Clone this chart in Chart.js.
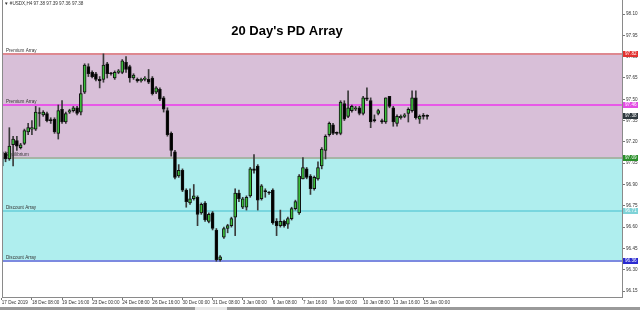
<!DOCTYPE html>
<html><head><meta charset="utf-8">
<script src="https://cdn.jsdelivr.net/npm/chart.js@4.4.1/dist/chart.umd.min.js"></script>
<style>
html,body{margin:0;padding:0;background:#fff;}
#wrap{position:relative;width:640px;height:310px;overflow:hidden;}
#strip{position:absolute;left:0;top:307px;width:640px;height:3px;background:#9a9a9a;}
#tab{position:absolute;left:195px;top:307px;width:32px;height:3px;background:#e6e6e6;}
</style></head><body>
<div id="wrap"><canvas id="c" width="640" height="310"></canvas><div id="strip"></div><div id="tab"></div></div>
<script>
// ---- data (USDX H4) ----
const opens  = [97.03,97.12,97.08,97.18,97.21,97.16,97.19,97.27,97.29,97.29,97.40,97.39,97.40,97.35,97.36,97.26,97.43,97.34,97.41,97.42,97.44,97.41,97.55,97.73,97.69,97.68,97.64,97.64,97.75,97.68,97.65,97.69,97.69,97.76,97.73,97.65,97.64,97.63,97.64,97.64,97.65,97.55,97.57,97.51,97.42,97.26,97.13,96.96,97.00,96.86,96.77,96.80,96.81,96.70,96.77,96.64,96.70,96.58,96.37,96.53,96.59,96.61,96.67,96.84,96.74,96.74,96.82,97.01,97.03,96.80,96.85,96.84,96.86,96.64,96.61,96.64,96.62,96.66,96.73,96.70,96.94,97.01,96.96,96.87,96.94,97.03,97.14,97.25,97.32,97.26,97.26,97.47,97.38,97.42,97.43,97.44,97.40,97.51,97.49,97.35,97.40,97.35,97.34,97.52,97.44,97.33,97.37,97.38,97.40,97.42,97.51,97.36,97.38,97.38];
const highs  = [97.14,97.13,97.30,97.24,97.24,97.19,97.29,97.33,97.35,97.45,97.44,97.42,97.41,97.37,97.37,97.46,97.49,97.41,97.43,97.45,97.45,97.60,97.75,97.75,97.70,97.69,97.66,97.82,97.76,97.69,97.70,97.71,97.78,97.80,97.74,97.68,97.65,97.65,97.66,97.71,97.66,97.59,97.58,97.52,97.44,97.27,97.14,97.04,97.01,96.87,96.87,96.90,96.82,96.77,96.78,96.70,96.71,96.59,96.40,96.60,96.62,96.67,96.87,96.86,96.81,96.82,97.02,97.11,97.04,96.90,96.87,96.85,96.87,96.66,96.72,96.65,96.67,96.74,96.79,96.97,97.09,97.02,96.97,96.96,97.06,97.16,97.25,97.34,97.33,97.27,97.49,97.49,97.56,97.46,97.45,97.45,97.52,97.58,97.51,97.39,97.43,97.36,97.51,97.52,97.45,97.39,97.39,97.40,97.44,97.56,97.56,97.39,97.40,97.39];
const lows   = [97.01,97.06,97.07,97.03,97.14,97.15,97.18,97.25,97.25,97.28,97.31,97.38,97.34,97.33,97.26,97.22,97.33,97.33,97.40,97.41,97.39,97.39,97.54,97.66,97.65,97.63,97.58,97.62,97.65,97.67,97.64,97.68,97.68,97.69,97.62,97.64,97.62,97.62,97.63,97.61,97.53,97.54,97.49,97.41,97.24,97.10,96.94,96.95,96.85,96.74,96.76,96.79,96.61,96.69,96.64,96.63,96.58,96.36,96.36,96.52,96.56,96.60,96.54,96.78,96.73,96.72,96.81,96.98,96.72,96.79,96.81,96.83,96.62,96.54,96.60,96.60,96.59,96.65,96.72,96.69,96.94,96.94,96.83,96.86,96.93,97.01,97.08,97.24,97.25,97.25,97.25,97.35,97.37,97.41,97.42,97.39,97.39,97.49,97.30,97.34,97.39,97.33,97.33,97.44,97.31,97.31,97.36,97.37,97.34,97.41,97.36,97.33,97.36,97.36];
const closes = [97.13,97.08,97.17,97.22,97.17,97.18,97.28,97.30,97.30,97.41,97.40,97.41,97.35,97.35,97.27,97.42,97.34,97.40,97.42,97.44,97.40,97.54,97.74,97.68,97.66,97.64,97.63,97.74,97.68,97.68,97.69,97.70,97.77,97.71,97.65,97.67,97.63,97.64,97.65,97.62,97.54,97.58,97.50,97.43,97.25,97.14,96.95,97.00,96.86,96.78,96.80,96.82,96.69,96.76,96.65,96.69,96.59,96.37,96.39,96.59,96.61,96.66,96.84,96.80,96.80,96.81,97.01,97.00,96.79,96.89,96.85,96.84,96.63,96.61,96.64,96.61,96.66,96.73,96.78,96.96,97.02,96.95,96.87,96.95,97.02,97.15,97.24,97.33,97.26,97.26,97.48,97.36,97.44,97.45,97.44,97.40,97.51,97.50,97.34,97.35,97.42,97.34,97.51,97.45,97.34,97.38,97.38,97.39,97.43,97.51,97.37,97.38,97.38,97.38];
const xTickBars   = [0,8,16,24,32,40,48,56,64,72,80,88,96,104,112];
const xTickLabels = ["17 Dec 2019","18 Dec 08:00","19 Dec 16:00","23 Dec 00:00","24 Dec 08:00","26 Dec 16:00","30 Dec 00:00","31 Dec 08:00","3 Jan 00:00","6 Jan 08:00","7 Jan 16:00","9 Jan 00:00","10 Jan 08:00","13 Jan 16:00","15 Jan 00:00"];
const yTickValues = [98.10,97.95,97.80,97.65,97.50,97.35,97.20,97.05,96.90,96.75,96.60,96.45,96.30,96.15];
const levelNames  = ["Premium Array","Premium Array","Equilibrium","Discount Array","Discount Array"];
const levelValues = [97.82,97.46,97.09,96.71,96.36];
const lastPrice   = 97.38;
const headerText  = "\u25BC #USDX,H4 97.38 97.39 97.36 97.38";
const titleText   = "20 Day's PD Array";

// ---- styling ----
const lineColors = ['#de8890','#e858e8','#a6b4a6','#78d6de','#7c8ae0'];
const tagColors  = ['#e2312f','#e34de3','#2a8f2a','#7fd3d8','#2a2ad0'];
const lastTagColor = '#2e383e';
const smallFont = '"Liberation Sans", Arial, sans-serif';

const bodyData = opens.map((o,i)=>({x:i, y:[o, closes[i]]}));
const wickData = lows.map((l,i)=>({x:i, y:[l, highs[i]]}));

const pdPlugin = {
  id:'pd',
  beforeDatasetsDraw(chart){
    const {ctx, chartArea:a, scales:{y}} = chart;
    const w = a.right - a.left;
    ctx.save();
    ctx.beginPath(); ctx.rect(a.left,a.top,w,a.bottom-a.top); ctx.clip();
    const p = levelValues.map(v=>Math.round(y.getPixelForValue(v)));
    ctx.fillStyle = '#d8bfd8'; ctx.fillRect(a.left, p[0], w, p[2]-p[0]);
    ctx.fillStyle = '#afeeee'; ctx.fillRect(a.left, p[2], w, p[4]-p[2]);
    p.forEach((py,i)=>{
      ctx.fillStyle = lineColors[i];
      ctx.fillRect(a.left, py-1, w, 2);
    });
    ctx.font = '4.6px ' + smallFont;
    ctx.fillStyle = '#333';
    ctx.textBaseline = 'bottom';
    ctx.textAlign = 'left';
    p.forEach((py,i)=>{ ctx.fillText(levelNames[i], a.left+4, py-1); });
    ctx.restore();
  },
  afterDraw(chart){
    const {ctx, chartArea:a, scales:{y}} = chart;
    ctx.save();
    // frame
    ctx.strokeStyle = '#8a8a8a'; ctx.lineWidth = 1;
    ctx.beginPath();
    ctx.moveTo(a.left+0.5, 0); ctx.lineTo(a.left+0.5, a.bottom+0.5);
    ctx.lineTo(a.right+0.5, a.bottom+0.5); ctx.lineTo(a.right+0.5, 0);
    ctx.stroke();
    // title + header
    ctx.fillStyle = '#000';
    ctx.font = 'bold 13px "Liberation Sans", Arial, sans-serif';
    ctx.textAlign = 'center'; ctx.textBaseline = 'middle';
    ctx.fillText(titleText, 287, 31.5);
    ctx.font = '4.6px "Liberation Sans", "DejaVu Sans", sans-serif';
    ctx.fillStyle = '#333'; ctx.textAlign = 'left';
    ctx.fillText(headerText, 4, 4);
    // price tags
    ctx.font = '4.6px ' + smallFont;
    const tag = (v,col)=>{
      const py = Math.round(y.getPixelForValue(v));
      ctx.fillStyle = col; ctx.fillRect(a.right+1, py-3, 15, 6);
      ctx.fillStyle = '#fff'; ctx.textAlign='left'; ctx.textBaseline='middle';
      ctx.fillText(v.toFixed(2), a.right+3, py);
    };
    levelValues.forEach((v,i)=>tag(v, tagColors[i]));
    tag(lastPrice, lastTagColor);
    ctx.restore();
  }
};

new Chart(document.getElementById('c'), {
  type:'bar',
  data:{datasets:[
    {label:'body', data:bodyData, order:1, grouped:false,
     backgroundColor:c=>{const d=c.raw; return (d && d.y[1]>d.y[0]) ? '#3cbf3c' : '#000';},
     borderColor:'#111', borderWidth:1, borderSkipped:false, barThickness:3, minBarLength:1},
    {label:'wick', data:wickData, order:2, grouped:false,
     backgroundColor:'#3a3a3a', borderWidth:0, barThickness:1}
  ]},
  options:{
    responsive:false, animation:false, devicePixelRatio:1,
    layout:{padding:{left:2,top:0,right:0,bottom:0}},
    plugins:{legend:{display:false}, tooltip:{enabled:false}, title:{display:false}},
    scales:{
      x:{type:'linear', offset:false, min:0.05, max:164.77,
         grid:{offset:false, drawOnChartArea:false, tickLength:3, color:'#777'},
         border:{color:'#8a8a8a'},
         afterBuildTicks:s=>{ s.ticks = xTickBars.map(v=>({value:v})); },
         ticks:{autoSkip:false, maxRotation:0, align:'start', padding:0, color:'#333',
                font:{size:4.6, family:smallFont},
                callback:v=>xTickLabels[xTickBars.indexOf(v)]},
         afterFit:s=>{ s.height = 13; s.paddingLeft = 0; s.paddingRight = 0; }},
      y:{position:'right', min:96.108, max:98.199, beginAtZero:false,
         grid:{drawOnChartArea:false, tickLength:3, color:'#777'},
         border:{color:'#8a8a8a'},
         afterBuildTicks:s=>{ s.ticks = yTickValues.map(v=>({value:v})); },
         ticks:{padding:1, color:'#333', font:{size:4.6, family:smallFont},
                callback:v=>Number(v).toFixed(2)},
         afterFit:s=>{ s.width = 18; s.paddingTop = 0; s.paddingBottom = 0; }}
    }
  },
  plugins:[pdPlugin]
});
</script>
</body></html>
